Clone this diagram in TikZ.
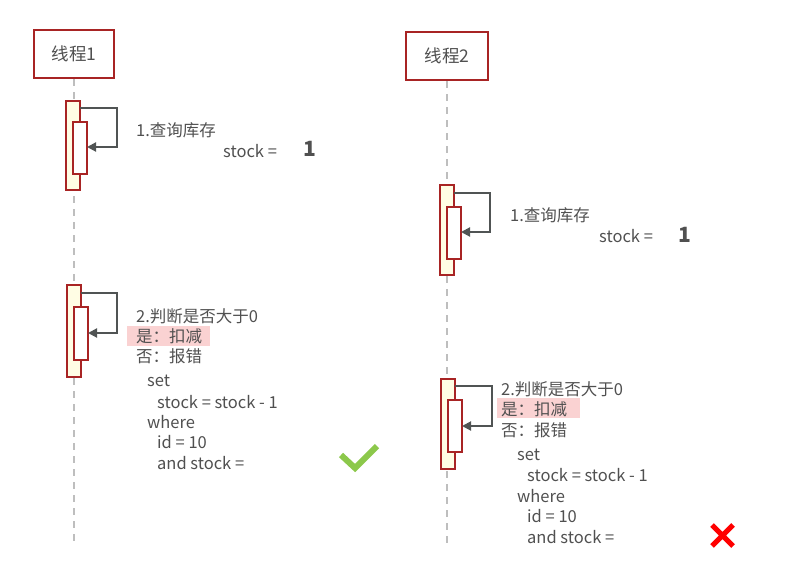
\documentclass[tikz,border=0pt]{standalone}
\usepackage{fontspec}
\setmainfont{Noto Sans CJK SC}
\usetikzlibrary{arrows.meta}
\definecolor{bord}{RGB}{168,36,36}
\definecolor{actfill}{RGB}{255,253,228}
\definecolor{arrowc}{RGB}{80,84,84}
\definecolor{txt}{RGB}{80,80,80}
\definecolor{hl}{RGB}{250,210,210}
\definecolor{lifec}{RGB}{190,190,190}
\definecolor{okc}{RGB}{140,200,75}
\tikzset{
  x=1pt,y=-1pt,
  thread/.style={draw=bord,line width=2pt,fill=white,minimum width=80pt,minimum height=48pt,text=txt,font=\fontsize{17.5}{17.5}\selectfont,inner sep=0pt},
  life/.style={lifec,line width=2pt,dash pattern=on 7pt off 6pt},
  actout/.style={draw=bord,line width=2pt,fill=actfill},
  actin/.style={draw=bord,line width=2pt,fill=white},
  selfarr/.style={arrowc,line width=2pt,-{Triangle[length=9pt,width=9pt]}},
  lbl/.style={anchor=west,text=txt,font=\fontsize{16.5}{16.5}\selectfont,inner sep=0pt},
  big/.style={anchor=west,text=txt,font=\fontsize{21}{21}\selectfont\bfseries,inner sep=0pt},
  hlbox/.style={fill=hl,draw=none}
}
\begin{document}
\begin{tikzpicture}
\useasboundingbox (0,0) rectangle (789,565);
% thread boxes
\node[thread] (t1) at (74,54) {线程1};
\node[thread,minimum width=82pt] (t2) at (447,56) {线程2};
\coordinate (l1end) at (74,542);
\coordinate (l2end) at (447,546);
\draw[life] (t1.south) -- (l1end);
\draw[life] (t2.south) -- (l2end);

% thread 1, step 1
\draw[actout] (66,101) rectangle (80,190);
\draw[actin] (73,122) rectangle (87,174);
\coordinate (a1s) at (80,108); \coordinate (a1e) at (87,147);
\draw[selfarr] (a1s) -- (117,108) -- (117,147) -- (a1e);
\node[lbl] (q1) at (136,130) {1.查询库存};
\node[lbl] (s1) at (223,151) {stock =};
\node[big] (n1) at (303,149) {1};

% thread 1, step 2
\draw[actout] (67,285) rectangle (81,377);
\draw[actin] (74,307) rectangle (88,360);
\coordinate (a2s) at (81,293); \coordinate (a2e) at (88,333);
\draw[selfarr] (a2s) -- (117,293) -- (117,333) -- (a2e);
\fill[hlbox] (127,326) rectangle (210,346);
\node[lbl] (j1) at (136,316) {2.判断是否大于0};
\node[lbl] (y1) at (136,336) {是：扣减};
\node[lbl] (n1b) at (136,356) {否：报错};
\node[lbl] (c1a) at (147,381) {set};
\node[lbl] (c1b) at (157,402) {stock = stock - 1};
\node[lbl] (c1c) at (147,422) {where};
\node[lbl] (c1d) at (157,442) {id = 10};
\node[lbl] (c1e) at (157,463) {and stock =};
\draw[okc,line width=6pt] (341,455) -- (355,468) -- (377,446);

% thread 2, step 1
\draw[actout] (440,185) rectangle (454,275);
\draw[actin] (447,207) rectangle (461,259);
\coordinate (b1s) at (454,193); \coordinate (b1e) at (461,232);
\draw[selfarr] (b1s) -- (490,193) -- (490,232) -- (b1e);
\node[lbl] (q2) at (510,215) {1.查询库存};
\node[lbl] (s2) at (599,236) {stock =};
\node[big] (n2) at (678,235) {1};

% thread 2, step 2
\draw[actout] (441,379) rectangle (455,469);
\draw[actin] (448,400) rectangle (462,452);
\coordinate (b2s) at (455,386); \coordinate (b2e) at (462,426);
\draw[selfarr] (b2s) -- (492,386) -- (492,426) -- (b2e);
\fill[hlbox] (497,398) rectangle (580,418);
\node[lbl] (j2) at (501,389) {2.判断是否大于0};
\node[lbl] (y2) at (501,409) {是：扣减};
\node[lbl] (n2b) at (501,430) {否：报错};
\node[lbl] (c2a) at (517,455) {set};
\node[lbl] (c2b) at (527,475) {stock = stock - 1};
\node[lbl] (c2c) at (517,496) {where};
\node[lbl] (c2d) at (527,516) {id = 10};
\node[lbl] (c2e) at (527,537) {and stock =};
\draw[red,line width=5pt] (712,525) -- (733,546) (733,525) -- (712,546);
\end{tikzpicture}
\end{document}
